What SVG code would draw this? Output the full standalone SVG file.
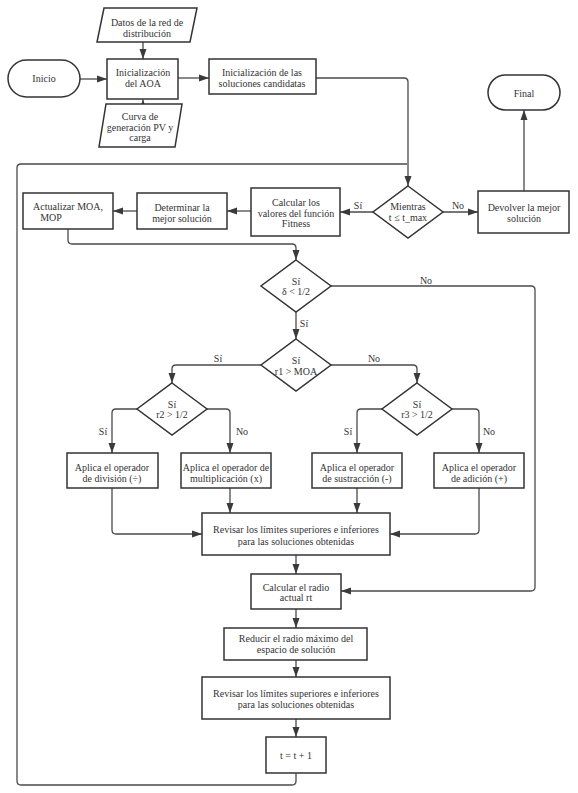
<svg xmlns="http://www.w3.org/2000/svg" width="578" height="793" viewBox="0 0 578 793">
<defs>
<marker id="ah" markerUnits="userSpaceOnUse" markerWidth="10" markerHeight="10" viewBox="0 0 10 10" refX="10" refY="5" orient="auto">
<path d="M0,1.5 L10,5 L0,8.5 Z" fill="#3a3a3a"/>
</marker>
<style>
.n rect,.n path,.n polygon{fill:#fff;stroke:#333;stroke-width:1.5}
text{font-family:"Liberation Serif","Times New Roman",serif;font-size:10px;fill:#333;text-anchor:middle}
.c path{fill:none;stroke:#4a4a4a;stroke-width:1.3;marker-end:url(#ah)}
.c path.nm{marker-end:none}
</style>
</defs>
<rect width="578" height="793" fill="#fff"/>
<g class="c" id="connectors">
<path d="M80,79 H107"/>
<path d="M143,42 V59"/>
<path d="M143,104 V99.5"/>
<path d="M178,78 H209"/>
<path d="M316,78 H404 Q408,78 408,82 V186"/>
<path class="nm" d="M296,773 V781 Q296,785 292,785 H21 Q17,785 17,781 V168 Q17,164 21,164 H407"/>
<path d="M373,212 H340"/>
<path d="M443,212 H478"/>
<path d="M524,191 V110"/>
<path d="M251,211 H227"/>
<path d="M137,211 H113"/>
<path d="M68,229 V240 Q68,244 72,244 H292 Q296,244 296,248 V260"/>
<path d="M296,312 V339"/>
<path d="M330,286 H531 Q535,286 535,290 V587 Q535,591 531,591 H341"/>
<path d="M261,365 H176 Q172,365 172,369 V383"/>
<path d="M330,365 H413 Q417,365 417,369 V383"/>
<path d="M137,409 H116 Q112,409 112,413 V453"/>
<path d="M207,409 H226 Q230,409 230,413 V453"/>
<path d="M382,409 H361 Q357,409 357,413 V453"/>
<path d="M452,409 H475 Q479,409 479,413 V453"/>
<path d="M112,488 V530 Q112,534 116,534 H202"/>
<path d="M230,488 V513"/>
<path d="M357,488 V513"/>
<path d="M479,488 V530 Q479,534 475,534 H390"/>
<path d="M296,555 V574"/>
<path d="M296,609 V628"/>
<path d="M296,660 V677"/>
<path d="M296,719 V737"/>
</g>
<g id="labels">
<text x="358" y="209">Sí</text>
<text x="458" y="209">No</text>
<text x="426" y="284">No</text>
<text x="304" y="327">Sí</text>
<text x="218" y="362">Sí</text>
<text x="374" y="362">No</text>
<text x="103" y="435">Sí</text>
<text x="242" y="435">No</text>
<text x="348" y="435">Sí</text>
<text x="489" y="435">No</text>
</g>
<g id="inicio" class="n"><rect x="8" y="60" width="72" height="37" rx="18.5"/><text x="44" y="82">Inicio</text></g>
<g id="datos" class="n"><polygon points="104,8 197,8 190,42 97,42"/><text x="147" y="26">Datos de la red de</text><text x="147" y="37">distribución</text></g>
<g id="init_aoa" class="n"><rect x="107" y="59" width="71" height="40"/><text x="143" y="76">Inicialización</text><text x="143" y="87">del AOA</text></g>
<g id="curva" class="n"><polygon points="106,104 182,104 175,147 99,147"/><text x="140" y="120">Curva de</text><text x="140" y="131">generación PV y</text><text x="140" y="141">carga</text></g>
<g id="init_sol" class="n"><rect x="209" y="59" width="107" height="35"/><text x="262" y="76">Inicialización de las</text><text x="262" y="87">soluciones candidatas</text></g>
<g id="final" class="n"><rect x="488" y="75" width="72" height="35" rx="17.5"/><text x="524" y="97">Final</text></g>
<g id="mientras" class="n"><polygon points="408,186 443,212 408,238 373,212"/><text x="408" y="210">Mientras</text><text x="408" y="221">t ≤ t_max</text></g>
<g id="devolver" class="n"><rect x="478" y="191" width="91" height="42"/><text x="524" y="211">Devolver la mejor</text><text x="524" y="222">solución</text></g>
<g id="calcular" class="n"><rect x="251" y="188" width="89" height="48"/><text x="296" y="206">Calcular los</text><text x="296" y="217">valores del función</text><text x="296" y="227">Fitness</text></g>
<g id="determinar" class="n"><rect x="137" y="193" width="90" height="36"/><text x="182" y="211">Determinar la</text><text x="182" y="222">mejor solución</text></g>
<g id="actualizar" class="n"><rect x="23" y="193" width="90" height="36"/><text x="68" y="210">Actualizar MOA,</text><text x="51" y="221">MOP</text></g>
<g id="delta" class="n"><polygon points="296,260 331,286 296,312 261,286"/><text x="296" y="285">Sí</text><text x="296" y="295">δ &lt; 1/2</text></g>
<g id="r1" class="n"><polygon points="296,339 331,365 296,391 261,365"/><text x="296" y="364">Sí</text><text x="296" y="375">r1 &gt; MOA</text></g>
<g id="r2" class="n"><polygon points="172,383 207,409 172,435 137,409"/><text x="172" y="408">Sí</text><text x="172" y="418">r2 &gt; 1/2</text></g>
<g id="r3" class="n"><polygon points="417,383 452,409 417,435 382,409"/><text x="417" y="408">Sí</text><text x="417" y="418">r3 &gt; 1/2</text></g>
<g id="division" class="n"><rect x="67" y="453" width="91" height="35"/><text x="112" y="471">Aplica el operador</text><text x="112" y="482">de división (÷)</text></g>
<g id="multiplicacion" class="n"><rect x="181" y="453" width="90" height="35"/><text x="226" y="471">Aplica el operador de</text><text x="226" y="482">multiplicación (x)</text></g>
<g id="sustraccion" class="n"><rect x="312" y="453" width="90" height="35"/><text x="357" y="471">Aplica el operador</text><text x="357" y="482">de sustracción (-)</text></g>
<g id="adicion" class="n"><rect x="434" y="453" width="90" height="35"/><text x="479" y="471">Aplica el operador</text><text x="479" y="482">de adición (+)</text></g>
<g id="revisar1" class="n"><rect x="202" y="513" width="188" height="42"/><text x="296" y="533">Revisar los límites superiores e inferiores</text><text x="296" y="545">para las soluciones obtenidas</text></g>
<g id="radio" class="n"><rect x="251" y="574" width="90" height="35"/><text x="296" y="591">Calcular el radio</text><text x="296" y="601">actual rt</text></g>
<g id="reducir" class="n"><rect x="224" y="628" width="143" height="32"/><text x="296" y="642">Reducir el radio máximo del</text><text x="296" y="653">espacio de solución</text></g>
<g id="revisar2" class="n"><rect x="202" y="677" width="188" height="42"/><text x="296" y="697">Revisar los límites superiores e inferiores</text><text x="296" y="708">para las soluciones obtenidas</text></g>
<g id="t_inc" class="n"><rect x="266" y="737" width="60" height="36"/><text x="296" y="759">t = t + 1</text></g>
</svg>
